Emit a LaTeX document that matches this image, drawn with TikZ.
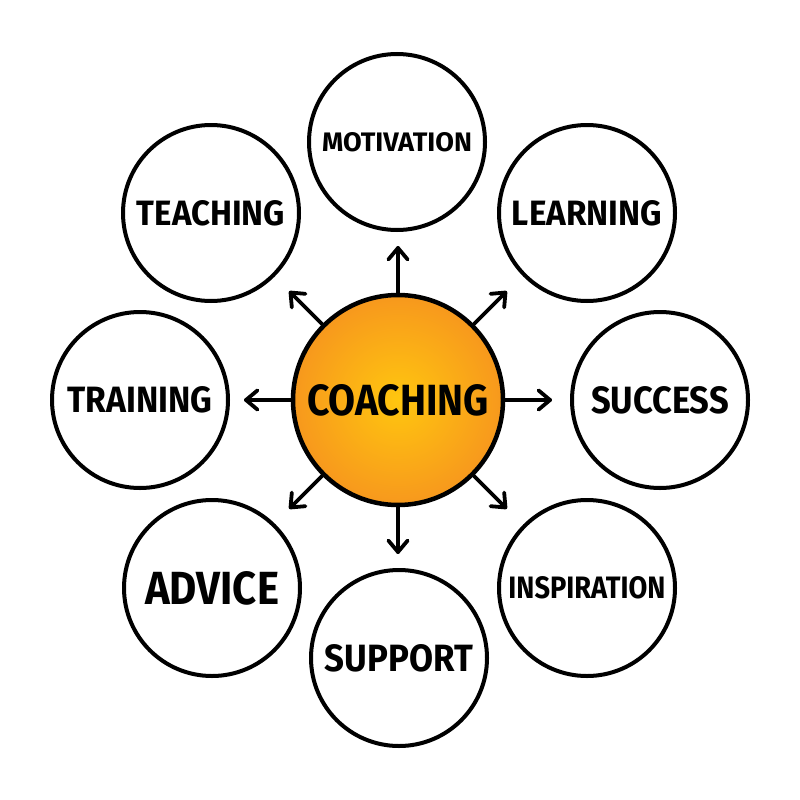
\documentclass[tikz,border=0pt]{standalone}
\usepackage{fontspec}
\setmainfont{Fira Sans}
\usetikzlibrary{calc}
\definecolor{orin}{HTML}{FFC60F}
\definecolor{orout}{HTML}{F7981D}
\newcommand\lab[3]{\resizebox{#1pt}{#2pt}{\bfseries #3}}
\tikzset{
  bubble/.style={circle,draw=black,line width=4pt,minimum size=176pt,inner sep=0pt,fill=white},
  hub/.style={circle,draw=black,line width=4.5pt,minimum size=210pt,inner sep=0pt,inner color=orin,outer color=orout},
  arr/.style={line width=3.8pt,line cap=round,line join=round}
}
\begin{document}
\begin{tikzpicture}[x=1pt,y=-1pt]
\useasboundingbox (0,0) rectangle (800,800);
\fill[white] (0,0) rectangle (800,800);
\node[hub] (c) at (398,400) {\lab{182}{31}{COACHING}};
\node[bubble] (mot) at (397,142) {\lab{150}{19}{MOTIVATION}};
\node[bubble] (lea) at (587,213) {\lab{150}{25}{LEARNING}};
\node[bubble] (suc) at (660,400) {\lab{138}{27}{SUCCESS}};
\node[bubble] (ins) at (587,588) {\lab{157}{22}{INSPIRATION}};
\node[bubble] (sup) at (399,658) {\lab{148}{27}{SUPPORT}};
\node[bubble] (adv) at (212,588) {\lab{134}{33}{ADVICE}};
\node[bubble] (tra) at (140,400) {\lab{145}{26}{TRAINING}};
\node[bubble] (tea) at (211,213) {\lab{148}{25}{TEACHING}};
\foreach \a/\n in {90/u,45/ne,0/r,-45/se,-90/d,-135/sw,180/l,135/nw}{
  \coordinate (e\n) at ($(c.center)+(-\a:152)$);
  \draw[arr] (c.\a) -- (e\n);
  \draw[arr] ($(e\n)+({-(\a+140)}:15)$) -- (e\n) -- ($(e\n)+({-(\a-140)}:15)$);
}
\end{tikzpicture}
\end{document}
